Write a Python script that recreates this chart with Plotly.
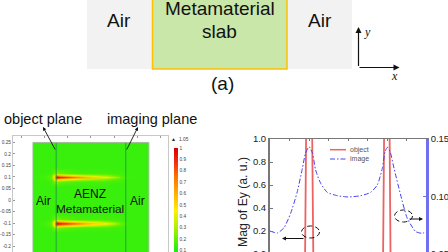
import plotly.graph_objects as go

# ---- right panel data ----
image_x = [-0.2, -0.181, -0.164, -0.147, -0.130, -0.117, -0.109, -0.100, -0.091, -0.083, -0.070, -0.053, -0.027, 0.0,
           0.033, 0.058, 0.075, 0.088, 0.095, 0.101, 0.108, 0.118, 0.135, 0.152, 0.174, 0.191, 0.199]
image_y = [0.070, 0.0683, 0.0729, 0.0854, 0.1042, 0.1245, 0.1375, 0.1433, 0.1375, 0.123, 0.1114, 0.1036, 0.1007, 0.0996,
           0.1007, 0.1036, 0.110, 0.1245, 0.139, 0.1428, 0.139, 0.1245, 0.1013, 0.081, 0.0694, 0.068, 0.0694]
object_x = [-0.2, -0.110, -0.100, -0.089, 0.090, 0.100, 0.109, 0.2]
object_y = [0.0, 0.0, 4.0, 0.0, 0.0, 4.0, 0.0, 0.0]
left_ticks = [0.0, 0.2, 0.4, 0.6, 0.8, 1.0]
right_ticks = [0.05, 0.10, 0.15]

# ---- left panel data ----
field_x = [-0.25, -0.249, -0.2, -0.175, -0.163, -0.156, -0.15, -0.14, -0.11, -0.07, -0.03, 0.03, 0.07, 0.10, 0.13, 0.16, 0.249, 0.25]
bg = [0.14, 0.14, 0.14, 0.14, 0.14, 0.14, 0.14, 0.14, 0.14, 0.14, 0.14, 0.14, 0.14, 0.14, 0.14, 0.14, 0.14, 0.14]
halo = [0.14, 0.14, 0.14, 0.15, 0.19, 0.24, 0.28, 0.22, 0.19, 0.17, 0.16, 0.16, 0.16, 0.15, 0.15, 0.14, 0.14, 0.14]
edge = [0.14, 0.14, 0.15, 0.18, 0.30, 0.50, 0.75, 0.62, 0.52, 0.44, 0.37, 0.31, 0.26, 0.21, 0.17, 0.14, 0.14, 0.14]
core = [0.14, 0.14, 0.15, 0.20, 0.36, 0.62, 1.00, 0.97, 0.90, 0.78, 0.66, 0.52, 0.43, 0.33, 0.21, 0.15, 0.14, 0.14]
field_y = [-0.25, -0.249, -0.14, -0.118, -0.108, -0.1, -0.092, -0.082, -0.06, 0.06, 0.082, 0.092, 0.1, 0.108, 0.118, 0.14, 0.249, 0.25]
field_z = [bg, bg, bg, halo, edge, core, edge, halo, bg, bg, halo, edge, core, edge, halo, bg, bg, bg]
field_ticks = [-0.25, -0.2, -0.15, -0.1, -0.05, 0, 0.05, 0.1, 0.15, 0.2, 0.25]
field_labels = ["-0.25", "-0.2", "-0.15", "-0.1", "-0.05", "0", "0.05", "0.1", "0.15", "0.2", "0.25"]
planes = [-0.15, 0.15]

W, H = 448, 300
FONT = "Liberation Sans"


def fx(px):
    return px / W


def fy(py):
    return 1 - py / H


fig = go.Figure()

fig.add_trace(go.Heatmap(
    x=field_x, y=field_y, z=field_z, zmin=0, zmax=1, zsmooth="best", xaxis="x", yaxis="y",
    colorscale=[[0, "#00e840"], [0.1, "#1cf014"], [0.2, "#64f000"], [0.3, "#acf000"], [0.45, "#fff000"],
                [0.6, "#ffb000"], [0.75, "#ff7000"], [0.9, "#f02010"], [1, "#d80000"]],
    colorbar=dict(x=fx(174), xanchor="left", y=fy(148), yanchor="top", len=114 / H, lenmode="fraction",
                  thickness=4, xpad=0, ypad=0, outlinewidth=0, ticks="", dtick=0.1, tick0=0,
                  tickfont=dict(size=4.8, color="#444", family=FONT)),
    hoverinfo="skip"))

fig.add_trace(go.Scatter(x=object_x, y=object_y, mode="lines", name="object", xaxis="x2", yaxis="y2",
                         line=dict(color="rgba(232,60,60,0.8)", width=1.8), showlegend=False))
fig.add_trace(go.Scatter(x=image_x, y=image_y, mode="lines", name="image", xaxis="x2", yaxis="y3",
                         line=dict(color="#4444ee", width=1, dash="5px,2px,1.5px,2px", shape="spline", smoothing=0.6),
                         showlegend=False))
# invisible trace keeps the pixel overlay axes alive
fig.add_trace(go.Scatter(x=[0], y=[0], mode="markers", marker=dict(opacity=0), xaxis="x4", yaxis="y4",
                         showlegend=False, hoverinfo="skip"))

shapes = []


def rect(x0, y0, x1, y1, fill, line=None, w=0):
    shapes.append(dict(type="rect", xref="x4", yref="y4", x0=x0, y0=y0, x1=x1, y1=y1, fillcolor=fill,
                       line=dict(color=line or fill, width=w), layer="below"))


rect(87, -10, 352, 69, "#f2f2f2")
rect(152.5, -10, 287, 69, "#c9e7a9", "#ffc000", 1.5)

# planes in the field plot
for p in planes:
    shapes.append(dict(type="line", xref="x", yref="y", x0=p, x1=p, y0=-0.25, y1=0.25,
                       line=dict(color="#1f9a45", width=0.9)))
shapes.append(dict(type="rect", xref="x", yref="y", x0=-0.25, x1=0.25, y0=-0.25, y1=0.25,
                   line=dict(color="#b0b0b0", width=0.8)))

# legend samples
shapes.append(dict(type="line", xref="x4", yref="y4", x0=330, x1=346, y0=149.7, y1=149.7,
                   line=dict(color="rgba(232,60,60,0.8)", width=1.5)))
shapes.append(dict(type="line", xref="x4", yref="y4", x0=330, x1=346, y0=159, y1=159,
                   line=dict(color="#4444ee", width=1, dash="5px,2px,1.5px,2px")))
# dashed ellipses
for cx, cy in [(310.5, 232), (403.5, 216)]:
    shapes.append(dict(type="circle", xref="x4", yref="y4", x0=cx - 9, x1=cx + 9, y0=cy - 6, y1=cy + 6,
                       line=dict(color="#111", width=1, dash="5px,3px")))

anns = []


def txt(x, y, s, size, color="#111", anchor="center", family=FONT, **kw):
    anns.append(dict(xref="x4", yref="y4", x=x, y=y, text=s, showarrow=False, xanchor=anchor, yanchor="middle",
                     font=dict(size=size, color=color, family=family), **kw))


def arrow(x0, y0, x1, y1, size=0.7, w=1):
    anns.append(dict(xref="x4", yref="y4", axref="x4", ayref="y4", x=x1, y=y1, ax=x0, ay=y0, text="",
                     showarrow=True, arrowhead=2, arrowsize=size, arrowwidth=w, arrowcolor="#111"))


txt(119, 20, "Air", 19)
txt(320, 20, "Air", 19)
txt(219.5, 8, "Metamaterial", 19)
txt(219.5, 31, "slab", 19)
txt(222, 83, "(a)", 19)
txt(367, 32, "<i>y</i>", 12, family="Liberation Serif")
txt(394.5, 76, "<i>x</i>", 12, family="Liberation Serif")
arrow(358.5, 67.5, 358.5, 27, 1, 1.2)
arrow(358, 67.5, 399.5, 67.5, 1, 1.2)

txt(43, 119, "object plane", 14.5)
txt(152, 119, "imaging plane", 14.5)
arrow(56, 151, 43, 127, 0.8, 0.9)
arrow(126, 151, 138, 127, 0.8, 0.9)
txt(43, 201, "Air", 12)
txt(137.5, 201, "Air", 12)
txt(90, 193.5, "AENZ", 12)
txt(90, 208.5, "Metamaterial", 11.8)
txt(173, 139, "▲", 5, color="#222")
txt(177, 139, "1.05", 4.8, color="#444", anchor="left")

txt(348, 150, "object", 7, color="#555", anchor="left")
txt(348, 159, "image", 7, color="#555", anchor="left")
txt(243, 202, "Mag of Ey (a. u.)", 12.2, color="#222", textangle=-90)
arrow(305, 238.5, 282, 238.5, 0.8, 1)
arrow(408, 219, 423, 219, 0.8, 1)

fig.update_layout(
    width=W, height=H, autosize=False, margin=dict(l=0, r=0, t=0, b=0, autoexpand=False),
    paper_bgcolor="white", plot_bgcolor="rgba(0,0,0,0)", showlegend=False,
    font=dict(family=FONT),
    shapes=shapes, annotations=anns,
    xaxis=dict(domain=[fx(13), fx(168)], range=[-0.336, 0.332], side="top", anchor="y", showticklabels=False,
               ticks="inside", ticklen=2, tickwidth=0.6, tickcolor="#999", dtick=0.1, tick0=0, showgrid=False,
               zeroline=False, showline=True, linecolor="#c8c8c8", linewidth=1, mirror=True),
    yaxis=dict(domain=[fy(264), fy(136)], range=[-0.278, 0.278], anchor="x", tickmode="array",
               tickvals=field_ticks, ticktext=field_labels, ticks="inside", ticklen=2, tickwidth=0.6,
               tickcolor="#999", tickfont=dict(size=4.8, color="#444", family=FONT), showgrid=False, zeroline=False,
               showline=True, linecolor="#c8c8c8", linewidth=1, mirror=True),
    xaxis2=dict(domain=[fx(270), fx(426)], range=[-0.2, 0.2], side="top", anchor="y2", showticklabels=False,
                ticks="inside", ticklen=2, tickwidth=0.8, tickcolor="#777", dtick=0.05, tick0=0, showgrid=False,
                zeroline=False, showline=True, linecolor="#777", linewidth=1),
    yaxis2=dict(domain=[fy(254), fy(139)], range=[0, 1], anchor="x2", side="left", tickmode="array",
                tickvals=left_ticks, ticktext=[f"{v:.1f}" for v in left_ticks], ticks="inside", ticklen=3,
                tickcolor="#777", tickfont=dict(size=9.5, color="#222", family=FONT), showgrid=False, zeroline=False,
                showline=True, linecolor="#777", linewidth=2),
    yaxis3=dict(domain=[fy(254), fy(139)], range=[0.05, 0.15], anchor="x2", overlaying="y2", side="right",
                tickmode="array", tickvals=right_ticks, ticktext=[f"{v:.2f}" for v in right_ticks], ticks="inside",
                ticklen=3, tickcolor="#6f6ff0", tickfont=dict(size=9.5, color="#222", family=FONT), showgrid=False,
                zeroline=False, showline=True, linecolor="#7070f0", linewidth=2.5),
    xaxis4=dict(domain=[0, 1], range=[0, W], visible=False, anchor="y4"),
    yaxis4=dict(domain=[0, 1], range=[H, 0], visible=False, anchor="x4"),
)
fig.write_html("out.html", config={"displayModeBar": False},
               post_script="document.body.style.margin='0';document.documentElement.style.overflow='hidden';")
